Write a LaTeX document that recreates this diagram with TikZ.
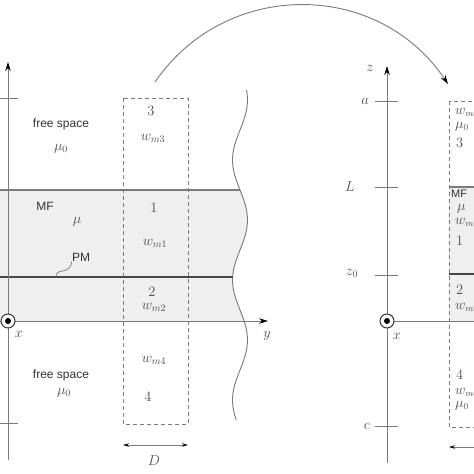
\documentclass[tikz,border=0pt]{standalone}
\usepackage{fontspec}
\newfontfamily\labsf{Liberation Sans}
\usetikzlibrary{arrows.meta}
\definecolor{lncol}{HTML}{7A7A7A}
\definecolor{bandcol}{HTML}{EFEFEF}
\definecolor{pmcol}{HTML}{454545}
\begin{document}
\begin{tikzpicture}[x=1pt,y=-1pt,
  ln/.style={draw=lncol,line width=0.9pt},
  axisarrow/.style={ln,-{Stealth[length=9pt,width=5.5pt,color=black]}},
  tickln/.style={ln},
  boxln/.style={draw=lncol,line width=0.8pt,dash pattern=on 4pt off 3pt},
  pmln/.style={draw=pmcol,line width=1.8pt},
  sflab/.style={inner sep=0pt,text=black!80,font=\labsf\fontsize{12}{14}\selectfont},
  mlab/.style={inner sep=0pt,text=black!70,font=\fontsize{14}{16}\selectfont},
  rlab/.style={inner sep=0pt,anchor=west,text=black!70,font=\fontsize{13.5}{15}\selectfont},
  rsf/.style={inner sep=0pt,anchor=west,text=black!80,font=\labsf\fontsize{11}{13}\selectfont},
  dotcirc/.style={circle,draw=black!85,line width=0.9pt,fill=white,minimum size=14pt,inner sep=0pt}]
\useasboundingbox (0,0) rectangle (474,474);
\fill[white] (0,0) rectangle (474,474);
\begin{scope}
\clip (0,0) rectangle (474,474);
% ---------- left diagram ----------
\fill[bandcol] (0,190) -- plot[domain=190:321,samples=40] ({240-7.5*cos(3*(\x-160))},\x) -- (0,321) -- cycle;
\draw[ln] plot[domain=90:420,samples=100,smooth] ({240-7.5*cos(3*(\x-160))},\x);
\coordinate (mfl) at (0,190); \coordinate (mfr) at (240,190);
\draw[ln,line width=1.1pt] (mfl) -- (mfr);
\coordinate (pml) at (0,277); \coordinate (pmr) at (233,277);
\draw[pmln] (pml) -- (pmr);
% axes
\coordinate (zb) at (8,460); \coordinate (zt) at (8,62);
\draw[axisarrow] (zb) -- (zt);
\coordinate (yl) at (0,321); \coordinate (yr) at (268,321);
\draw[axisarrow] (yl) -- (yr);
\coordinate (t1a) at (0,98); \coordinate (t1b) at (18,98);
\coordinate (t2a) at (0,423); \coordinate (t2b) at (18,423);
\draw[tickln] (t1a) -- (t1b);
\draw[tickln] (t2a) -- (t2b);
\node[dotcirc] (xo) at (8,321) {};
\fill[black] (xo.center) circle (3pt);
% dashed box
\coordinate (bx1) at (123,98); \coordinate (bx2) at (188,424);
\draw[boxln] (bx1) rectangle (bx2);
% D arrow
\coordinate (da) at (123,445); \coordinate (db) at (188,445);
\draw[ln,{Stealth[length=6pt,width=3.5pt,color=black]}-{Stealth[length=6pt,width=3.5pt,color=black]}] (da) -- (db);
% labels
\node[sflab] (fs1) at (61,124) {free space};
\node[mlab] (mua) at (61,149) {$\mu_0$};
\node[mlab] (n3) at (151,111) {$3$};
\node[mlab] (w3) at (153,138) {$w_{m3}$};
\node[sflab] (mf) at (45,206) {MF};
\node[mlab] (mu) at (77,222) {$\mu$};
\node[mlab] (n1) at (154,208) {$1$};
\node[mlab] (w1) at (155,243) {$w_{m1}$};
\node[sflab] (pm) at (81,257) {PM};
\draw[ln,line width=0.7pt] (56,277) .. controls (56,270) and (62,272) .. (66,270) .. controls (70,268) and (71,266) .. (pm.south west);
\node[mlab] (n2) at (152,292) {$2$};
\node[mlab] (w2) at (154,307) {$w_{m2}$};
\node[mlab] (xl) at (19,334) {$x$};
\node[mlab] (ylab) at (267,336) {$y$};
\node[mlab] (w4) at (154,360) {$w_{m4}$};
\node[sflab] (fs2) at (61,375) {free space};
\node[mlab] (mub) at (64,393) {$\mu_0$};
\node[mlab] (n4) at (148,397) {$4$};
\node[mlab] (dl) at (154,461) {$D$};
% ---------- right diagram ----------
\fill[bandcol] (449,187) rectangle (490,321);
\coordinate (rmfl) at (449,187); \coordinate (rmfr) at (490,187);
\draw[ln,line width=1.1pt] (rmfl) -- (rmfr);
\coordinate (rpml) at (449,274); \coordinate (rpmr) at (490,274);
\draw[pmln] (rpml) -- (rpmr);
\coordinate (rzb) at (387,463); \coordinate (rzt) at (387,66);
\draw[axisarrow] (rzb) -- (rzt);
\coordinate (rya) at (387,321); \coordinate (ryb) at (490,321);
\draw[ln] (rya) -- (ryb);
\foreach \yy/\nm in {101/ta,187/tl,275/tz,426/tc}{
  \coordinate (\nm1) at (375,\yy); \coordinate (\nm2) at (398,\yy);
  \draw[tickln] (\nm1) -- (\nm2);
}
\node[dotcirc] (rxo) at (387,321) {};
\fill[black] (rxo.center) circle (3pt);
\coordinate (rbx1) at (449,101); \coordinate (rbx2) at (530,427);
\draw[boxln] (rbx1) rectangle (rbx2);
\coordinate (rda) at (490,447); \coordinate (rdb) at (449,447);
\draw[ln,-{Stealth[length=6pt,width=3.5pt,color=black]}] (rda) -- (rdb);
\node[mlab] (zl) at (370,68) {$z$};
\node[mlab] (al) at (365,101) {$a$};
\node[mlab] (ll) at (350,187) {$L$};
\node[mlab] (z0l) at (352,273) {$z_0$};
\node[mlab] (cl) at (367,426) {$c$};
\node[mlab] (rxl) at (397,336) {$x$};
\node[rlab] (rw3) at (455,112) {$w_{m3}$};
\node[rlab] (rmu3) at (455,127) {$\mu_0$};
\node[rlab] (rn3) at (456,143) {$3$};
\node[rsf] (rmf) at (451,194) {MF};
\node[rlab] (rmu) at (457,209) {$\mu$};
\node[rlab] (rw1) at (455,222) {$w_{m1}$};
\node[rlab] (rn1) at (456,241) {$1$};
\node[rlab] (rn2) at (456,290) {$2$};
\node[rlab] (rw2) at (455,307) {$w_{m2}$};
\node[rlab] (rn4) at (456,375) {$4$};
\node[rlab] (rw4) at (455,392) {$w_{m4}$};
\node[rlab] (rmu4) at (455,406) {$\mu_0$};
% ---------- connecting arc ----------
\coordinate (arcS) at (155,82); \coordinate (arcE) at (448,84);
\draw[ln,-{Stealth[length=9pt,width=5.5pt,color=black]}] (arcS) .. controls (225.6,-21.1) and (378,-20.6) .. (arcE);
\end{scope}
\end{tikzpicture}
\end{document}
